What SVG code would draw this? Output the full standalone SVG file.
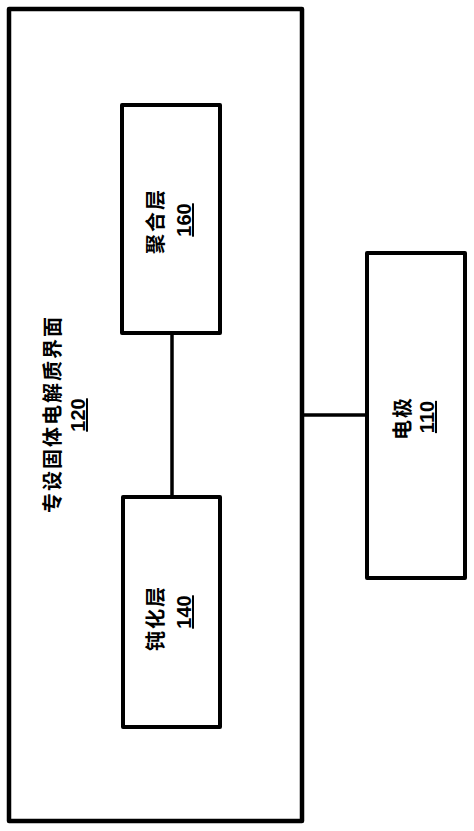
<svg xmlns="http://www.w3.org/2000/svg" width="474" height="831" viewBox="0 0 474 831">
<style>
.box{fill:#fff;stroke:#000;stroke-width:4;stroke-linejoin:round}
.outer{fill:#fff;stroke:#000;stroke-width:4.5;stroke-linejoin:round}
.cn{font-family:"Noto Sans CJK SC","Noto Sans CJK JP",sans-serif;font-size:20px;font-weight:bold;letter-spacing:2px;text-anchor:middle}
.num{font-family:"Liberation Sans",Arial,sans-serif;font-size:20px;font-weight:bold;text-anchor:middle;text-decoration:underline}
.ln{stroke:#000;stroke-width:3.5;fill:none}
</style>
<rect width="474" height="831" fill="#fff"/>
<g id="n120">
<rect class="outer" x="9" y="9" width="293" height="812"/>
<text class="cn" transform="translate(60,414) rotate(-90)">专设固体电解质界面</text>
<text class="num" transform="translate(85,415) rotate(-90)">120</text>
</g>
<g id="connectors">
<line class="ln" x1="172" y1="333" x2="172" y2="497"/>
<line class="ln" x1="302" y1="415" x2="367" y2="415"/>
</g>
<g id="n160">
<rect class="box" x="122" y="105" width="98" height="228"/>
<text class="cn" transform="translate(163,221) rotate(-90)">聚合层</text>
<text class="num" transform="translate(191,220) rotate(-90)">160</text>
</g>
<g id="n140">
<rect class="box" x="123" y="497" width="97" height="230"/>
<text class="cn" transform="translate(163,618) rotate(-90)">钝化层</text>
<text class="num" transform="translate(191,612) rotate(-90)">140</text>
</g>
<g id="n110">
<rect class="box" x="367" y="253" width="98" height="325"/>
<text class="cn" transform="translate(410,418) rotate(-90)">电极</text>
<text class="num" transform="translate(434,417) rotate(-90)">110</text>
</g>
</svg>
